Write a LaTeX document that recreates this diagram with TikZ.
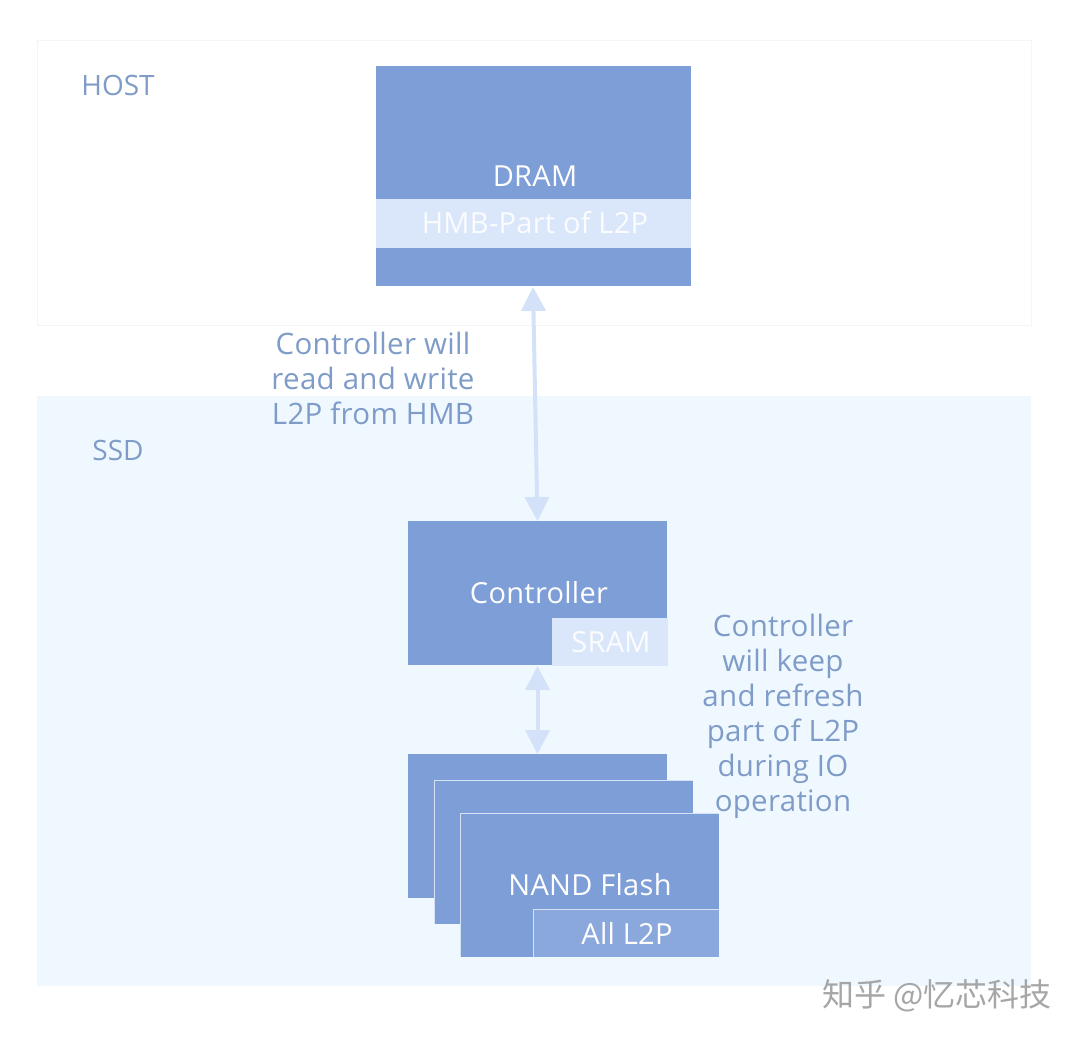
\documentclass[tikz,border=0pt]{standalone}
\usepackage{fontspec}
\usetikzlibrary{arrows.meta}
\setmainfont{Open Sans}
\newfontfamily\labelfont[LetterSpace=1]{Open Sans}
\newfontfamily\cjk{Noto Sans CJK SC}
\definecolor{boxblue}{HTML}{7D9ED6}
\definecolor{pale}{HTML}{DAE6FA}
\definecolor{ssdbg}{HTML}{EEF8FE}
\definecolor{txtblue}{HTML}{7F9CC8}
\definecolor{arrowc}{HTML}{D3E2F8}
\definecolor{l2pc}{HTML}{8BA8DC}
\definecolor{edge}{HTML}{F3F5F6}
\definecolor{seam}{HTML}{D5E2F5}
\tikzset{
  blockbox/.style={fill=boxblue,draw=none,anchor=north west,inner sep=0pt,outer sep=0pt},
  palebox/.style={fill=pale,draw=none,anchor=north west,inner sep=0pt,outer sep=0pt},
  seamline/.style={draw=seam,line width=0.9pt},
  boxlabel/.style={text=white,font=\labelfont\fontsize{29}{34}\selectfont,inner sep=0pt},
  palelabel/.style={text=white!88!pale,font=\labelfont\fontsize{29}{34}\selectfont,inner sep=0pt},
  note/.style={text=txtblue,font=\labelfont\fontsize{29.5}{35}\selectfont,align=center,inner sep=0pt},
  corner/.style={text=txtblue,font=\fontsize{28}{34}\selectfont,inner sep=0pt},
  link/.style={arrowc,line width=4pt,{Triangle[width=24pt,length=24pt]}-{Triangle[width=24pt,length=24pt]}},
  region/.style={anchor=north west,inner sep=0pt,outer sep=0pt}
}
\begin{document}
\begin{tikzpicture}[x=1pt,y=-1pt]
\useasboundingbox (0,0) rectangle (1080,1041);
\fill[white] (0,0) rectangle (1080,1041);
\node[region,draw=edge,line width=0.8pt,minimum width=994pt,minimum height=285pt] (host) at (37,40) {};
\node[region,fill=ssdbg,minimum width=994pt,minimum height=590pt] (ssd) at (37,396) {};
\node[corner] (hostl) at (118,85) {HOST};
\node[corner] (ssdl) at (118,450) {SSD};
% DRAM
\node[blockbox,minimum width=315pt,minimum height=220pt] (dram) at (376,66) {};
\node[palebox,minimum width=315pt,minimum height=49pt] (hmb) at (376,199) {};
\node[boxlabel] (draml) at (535,176) {DRAM};
\node[palelabel] (hmbl) at (535,222.5) {HMB-Part of L2P};
% Controller
\node[blockbox,minimum width=259pt,minimum height=144pt] (ctrl) at (408,521) {};
\node[palebox,minimum width=116pt,minimum height=48pt] (sram) at (552,618) {};
\node[boxlabel] (ctrll) at (539,593) {Controller};
\node[palelabel] (sraml) at (611,642) {SRAM};
% NAND
\node[blockbox,minimum width=259pt,minimum height=144pt] (n1) at (408,754) {};
\node[blockbox,minimum width=259pt,minimum height=144pt] (n2) at (434,780) {};
\draw[seamline] (n2.south west) -- (n2.north west) -- (n2.north east);
\node[blockbox,minimum width=259pt,minimum height=144pt] (n3) at (460,813) {};
\draw[seamline] (n3.south west) -- (n3.north west) -- (n3.north east);
\node[blockbox,fill=l2pc,minimum width=186pt,minimum height=48pt] (l2p) at (533,909) {};
\draw[seamline] (l2p.south west) -- (l2p.north west) -- (l2p.north east);
\node[boxlabel] (nandl) at (590,885) {NAND Flash};
\node[boxlabel] (l2pl) at (627,933) {All L2P};
% links
\draw[link] (dram.south) ++(-0.5,1) coordinate (a1) (a1) -- (ctrl.north);
\draw[link] (ctrl.south) ++(0,1) coordinate (a2) (a2) -- (n1.north);
% notes
\node[note] (n4) at (373,378) {Controller will\\read and write\\L2P from HMB};
\node[note] (n5) at (783,716) {Controller\\will keep\\and refresh\\part of L2P\\during IO\\operation};
\node[text=black!35,font=\cjk\fontsize{32}{36}\selectfont,inner sep=0pt] (wm) at (937,996) {知乎 @忆芯科技};
\end{tikzpicture}
\end{document}
